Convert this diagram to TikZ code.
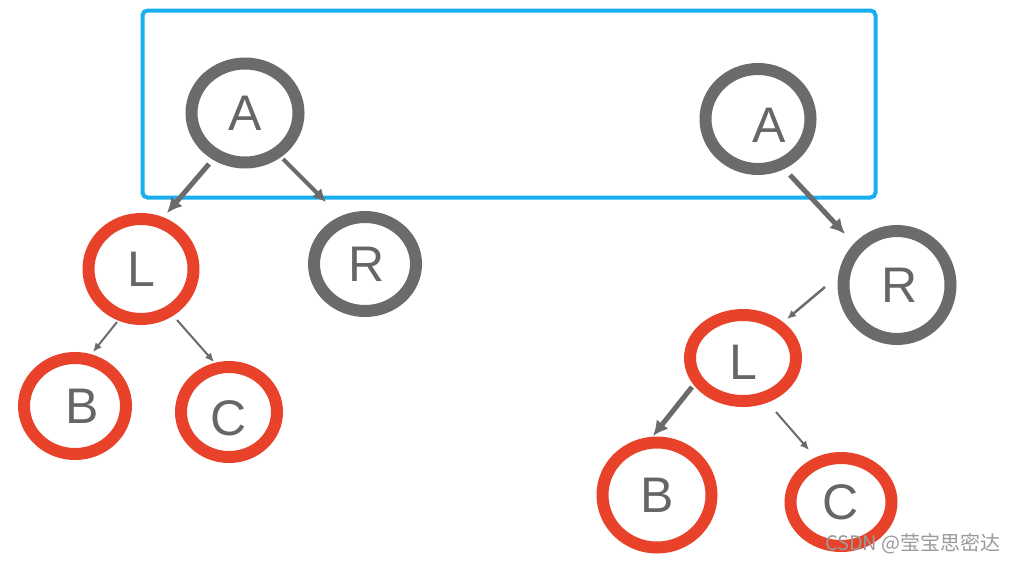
\documentclass[tikz,border=0pt]{standalone}
\usepackage{fontspec}
\setmainfont{Liberation Sans}
\newfontfamily\cjk{Noto Sans CJK SC}
\usetikzlibrary{arrows.meta,calc,shapes.geometric}
\definecolor{ringgray}{HTML}{6B6B6B}
\definecolor{ringred}{HTML}{E8432A}
\definecolor{boxblue}{HTML}{19AEEF}
\definecolor{txtgray}{HTML}{666666}
\definecolor{wmgray}{HTML}{9A9A9A}
\tikzset{
  ring/.style={ellipse, draw, line width=12pt, inner sep=0pt},
  gring/.style={ring, draw=ringgray},
  rring/.style={ring, draw=ringred},
  lbl/.style={font=\fontsize{50}{50}\selectfont, text=txtgray},
  thickarrow/.style={draw=ringgray, line width=5pt, -{Latex[length=15pt,width=15pt]}},
  midarrow/.style={draw=ringgray, line width=4pt, -{Latex[length=13pt,width=13pt]}},
  thinarrow/.style={draw=ringgray, line width=2pt, -{Latex[length=9pt,width=8pt]}},
}
\begin{document}
\begin{tikzpicture}[x=1pt,y=-1pt]
\useasboundingbox[fill=white] (0,0) rectangle (1016,562);
% highlight box
\node[draw=boxblue, line width=4pt, rounded corners=5pt, minimum width=733pt, minimum height=187pt, inner sep=0pt] (box) at (509,104) {};
% left tree
\node[gring, minimum width=107pt, minimum height=99pt, label={[lbl]center:A}] (A1) at (245,113) {};
\node[gring, minimum width=102pt, minimum height=94pt, label={[lbl,xshift=2pt]center:R}] (R1) at (365,264) {};
\node[rring, minimum width=105pt, minimum height=100pt, label={[lbl]center:L}] (L1) at (141,269) {};
\node[rring, minimum width=102pt, minimum height=96pt, label={[lbl,xshift=7pt]center:B}] (B1) at (75,406) {};
\node[rring, minimum width=96pt, minimum height=90pt, label={[lbl,yshift=-6pt]center:C}] (C1) at (229,412) {};
% right tree
\node[gring, minimum width=105pt, minimum height=100pt, label={[lbl,xshift=11pt,yshift=-6pt]center:A}] (A2) at (758,119) {};
\node[gring, minimum width=107pt, minimum height=108pt, label={[lbl,xshift=3pt]center:R}] (R2) at (897,285) {};
\node[rring, minimum width=106pt, minimum height=86pt, label={[lbl,yshift=-4pt]center:L}] (L2) at (743,358) {};
\node[rring, minimum width=109pt, minimum height=105pt, label={[lbl]center:B}] (B2) at (657,495) {};
\node[rring, minimum width=101pt, minimum height=88pt, label={[lbl]center:C}] (C2) at (841,502) {};
% connectors
\draw[thickarrow] ($(A1)+(-36,51)$) -- ($(L1)+(26,-56)$);
\draw[midarrow] ($(A1)+(38,46)$) -- ($(R1)+(-39,-62)$);
\draw[thinarrow] ($(L1)+(-24,53)$) -- ($(B1)+(18,-54)$);
\draw[thinarrow] ($(L1)+(36,51)$) -- ($(C1)+(-15,-50)$);
\draw[thickarrow] ($(A2)+(32,56)$) -- ($(R2)+(-52,-51)$);
\draw[thinarrow, line width=2.5pt] ($(R2)+(-72,2)$) -- ($(L2)+(44,-39)$);
\draw[thickarrow] ($(L2)+(-51,29)$) -- ($(B2)+(-4,-59)$);
\draw[thinarrow] ($(L2)+(33,54)$) -- ($(C2)+(-32,-52)$);
% watermark
\node[anchor=base east, font=\cjk\fontsize{20}{20}\selectfont, text=wmgray, inner sep=0pt] (wm) at (1001,550) {CSDN @莹宝思密达};
\end{tikzpicture}
\end{document}
